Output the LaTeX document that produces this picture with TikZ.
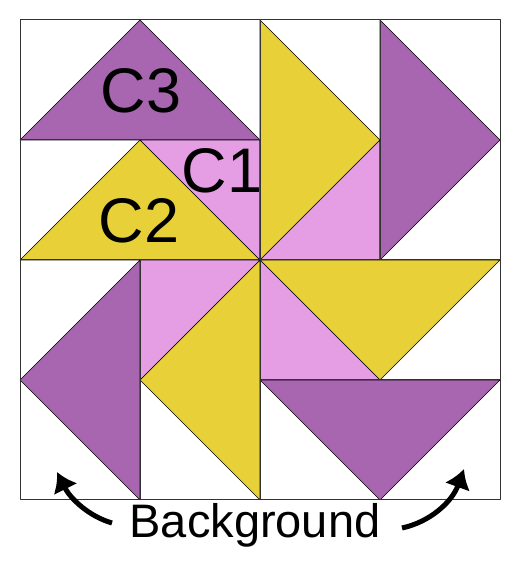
\documentclass[tikz,border=0pt]{standalone}
\usepackage{fontspec}
\setmainfont{Liberation Sans}
\usetikzlibrary{arrows.meta}
\definecolor{purplecol}{rgb}{0.659,0.396,0.690}
\definecolor{yellowcol}{rgb}{0.906,0.816,0.220}
\definecolor{pinkcol}{rgb}{0.898,0.620,0.894}
\begin{document}
\begin{tikzpicture}[>=latex,line join=bevel,
  patch/.style={draw=black,line width=0.6bp},
  grid/.style={draw=black!80,line width=1bp},
  blocklabel/.style={anchor=base,inner sep=0pt,font=\fontsize{63bp}{63bp}\selectfont},
  bglabel/.style={anchor=base,inner sep=0pt,font=\fontsize{47bp}{47bp}\selectfont},
  bgarrow/.style={line width=5bp,-{Latex[length=19bp,width=27bp]}}]
%%
\useasboundingbox (0bp,0bp) rectangle (520bp,572bp);
\fill[white] (0bp,0bp) rectangle (520bp,572bp);
%% top left
  \filldraw[patch,fill=purplecol] (20bp,432bp) -- (140bp,552bp) -- (260bp,432bp) -- cycle;
  \filldraw[patch,fill=yellowcol] (20bp,312bp) -- (140bp,432bp) -- (260bp,312bp) -- cycle;
  \filldraw[patch,fill=pinkcol] (140bp,432bp) -- (260bp,432bp) -- (260bp,312bp) -- cycle;
%% top right
  \filldraw[patch,fill=yellowcol] (260bp,552bp) -- (380bp,432bp) -- (260bp,312bp) -- cycle;
  \filldraw[patch,fill=pinkcol] (260bp,312bp) -- (380bp,432bp) -- (380bp,312bp) -- cycle;
  \filldraw[patch,fill=purplecol] (380bp,552bp) -- (500bp,432bp) -- (380bp,312bp) -- cycle;
%% bottom right
  \filldraw[patch,fill=yellowcol] (260bp,312bp) -- (500bp,312bp) -- (380bp,192bp) -- cycle;
  \filldraw[patch,fill=pinkcol] (260bp,312bp) -- (380bp,192bp) -- (260bp,192bp) -- cycle;
  \filldraw[patch,fill=purplecol] (260bp,192bp) -- (500bp,192bp) -- (380bp,72bp) -- cycle;
%% bottom left
  \filldraw[patch,fill=yellowcol] (260bp,312bp) -- (260bp,72bp) -- (140bp,192bp) -- cycle;
  \filldraw[patch,fill=pinkcol] (140bp,312bp) -- (260bp,312bp) -- (140bp,192bp) -- cycle;
  \filldraw[patch,fill=purplecol] (140bp,312bp) -- (140bp,72bp) -- (20bp,192bp) -- cycle;
%% seams
  \draw[grid] (20bp,72bp) rectangle (500bp,552bp);
  \draw[grid] (20bp,432bp) -- (260bp,432bp);
  \draw[grid] (260bp,72bp) -- (260bp,552bp);
  \draw[grid] (20bp,312bp) -- (500bp,312bp);
  \draw[grid] (380bp,312bp) -- (380bp,552bp);
  \draw[grid] (260bp,192bp) -- (500bp,192bp);
  \draw[grid] (140bp,72bp) -- (140bp,312bp);
%% labels
  \node (cthree) at (141bp,459bp) [blocklabel] {C3};
  \node (cone) at (222bp,379bp) [blocklabel] {C1};
  \node (ctwo) at (139bp,329bp) [blocklabel] {C2};
  \node (background) at (255bp,35bp) [bglabel] {Background};
%% arrows
  \coordinate (lefttail) at (112bp,49bp);
  \coordinate (lefttip) at (57bp,100bp);
  \coordinate (righttail) at (402bp,44bp);
  \coordinate (righttip) at (464bp,103bp);
  \draw [bgarrow] (lefttail) ..controls (88bp,56bp) and (70bp,74bp) .. (lefttip);
  \draw [bgarrow] (righttail) ..controls (430bp,50bp) and (452bp,70bp) .. (righttip);
%
\end{tikzpicture}
\end{document}
